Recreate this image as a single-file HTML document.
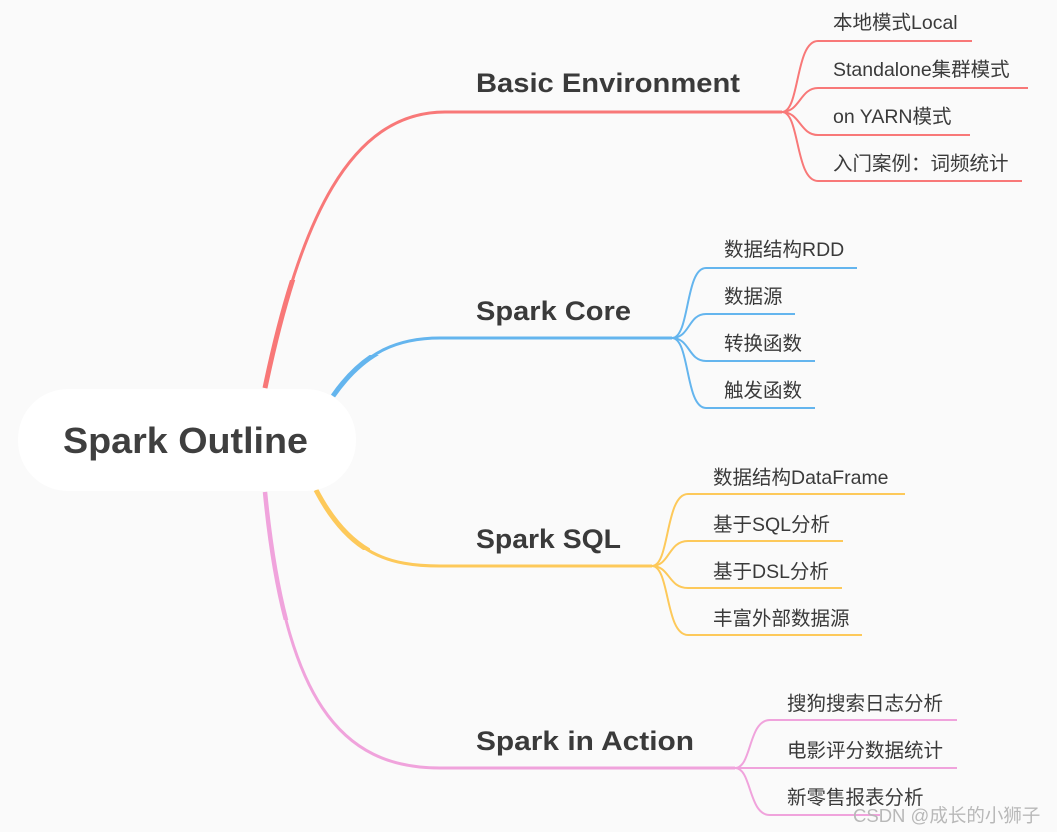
<!DOCTYPE html>
<html><head><meta charset="utf-8"><style>
html,body{margin:0;padding:0;background:#fafafa;}
svg{display:block}
.t{font-family:"Liberation Sans","Noto Sans CJK SC",sans-serif;font-size:19.5px;fill:#3a3a3a}
.b{font-family:"Liberation Sans","Noto Sans CJK SC",sans-serif;font-size:27px;font-weight:bold;fill:#3a3a3a}
</style></head><body>
<svg width="1057" height="832" viewBox="0 0 1057 832" xmlns="http://www.w3.org/2000/svg">
<defs>
<clipPath id="lowR"><rect x="0" y="280" width="400" height="120"/></clipPath>
<clipPath id="lowB"><rect x="300" y="355" width="80" height="60"/></clipPath>
<clipPath id="lowY"><rect x="300" y="480" width="70" height="70"/></clipPath>
<clipPath id="lowP"><rect x="200" y="480" width="120" height="140"/></clipPath>
</defs>
<rect width="1057" height="832" fill="#fafafa"/>
<!-- main branches -->
<path d="M265,388 C300,220 350,112 445,112 L782,112" fill="none" stroke="#f87878" stroke-width="3"/>
<path d="M265,388 C300,220 350,112 445,112" fill="none" stroke="#f87878" stroke-width="5" clip-path="url(#lowR)"/>
<path d="M333,396 C365,350 400,338 440,338 L672,338" fill="none" stroke="#64b5ee" stroke-width="3"/>
<path d="M333,396 C365,350 400,338 440,338" fill="none" stroke="#64b5ee" stroke-width="5" clip-path="url(#lowB)"/>
<path d="M316,490 C350,555 390,566 440,566 L652,566" fill="none" stroke="#fdc95a" stroke-width="3"/>
<path d="M316,490 C350,555 390,566 440,566" fill="none" stroke="#fdc95a" stroke-width="5" clip-path="url(#lowY)"/>
<path d="M265,492 C285,700 340,768 440,768 L735,768" fill="none" stroke="#f0a3dc" stroke-width="3"/>
<path d="M265,492 C285,700 340,768 440,768" fill="none" stroke="#f0a3dc" stroke-width="4.5" clip-path="url(#lowP)"/>
<!-- central node -->
<rect x="18" y="389" width="338" height="102" rx="50" fill="#ffffff"/>
<text x="63" y="453" font-family="Liberation Sans, sans-serif" font-size="36" font-weight="bold" fill="#3f3f3f" textLength="245" lengthAdjust="spacingAndGlyphs">Spark Outline</text>
<!-- red children -->
<g fill="none" stroke="#f87878" stroke-width="2">
<path d="M782,112 C800,112 795,41 818,41 L972,41"/>
<path d="M782,112 C800,112 800,88 818,88 L1028,88"/>
<path d="M782,112 C800,112 800,135 818,135 L970,135"/>
<path d="M782,112 C800,112 795,181 818,181 L1022,181"/>
</g>
<text class="b" x="476" y="92" textLength="264" lengthAdjust="spacingAndGlyphs">Basic Environment</text>
<text class="t" x="833" y="29">本地模式Local</text>
<text class="t" x="833" y="76">Standalone集群模式</text>
<text class="t" x="833" y="123">on YARN模式</text>
<text class="t" x="833" y="170">入门案例：词频统计</text>
<!-- blue children -->
<g fill="none" stroke="#64b5ee" stroke-width="2">
<path d="M672,338 C690,338 685,268 706,268 L857,268"/>
<path d="M672,338 C690,338 688,314 706,314 L795,314"/>
<path d="M672,338 C690,338 688,361 706,361 L815,361"/>
<path d="M672,338 C690,338 685,408 706,408 L815,408"/>
</g>
<text class="b" x="476" y="320" textLength="155" lengthAdjust="spacingAndGlyphs">Spark Core</text>
<text class="t" x="724" y="256">数据结构RDD</text>
<text class="t" x="724" y="303">数据源</text>
<text class="t" x="724" y="350">转换函数</text>
<text class="t" x="724" y="397">触发函数</text>
<!-- yellow children -->
<g fill="none" stroke="#fdc95a" stroke-width="2">
<path d="M652,566 C670,566 665,494 688,494 L905,494"/>
<path d="M652,566 C670,566 668,541 688,541 L843,541"/>
<path d="M652,566 C670,566 668,588 688,588 L842,588"/>
<path d="M652,566 C670,566 665,635 688,635 L862,635"/>
</g>
<text class="b" x="476" y="548" textLength="145" lengthAdjust="spacingAndGlyphs">Spark SQL</text>
<text class="t" x="713" y="484">数据结构DataFrame</text>
<text class="t" x="713" y="531">基于SQL分析</text>
<text class="t" x="713" y="578">基于DSL分析</text>
<text class="t" x="713" y="625">丰富外部数据源</text>
<!-- pink children -->
<g fill="none" stroke="#f0a3dc" stroke-width="2">
<path d="M735,768 C752,768 748,720 770,720 L957,720"/>
<path d="M735,768 L957,768"/>
<path d="M735,768 C752,768 748,815 770,815 L880,815"/>
</g>
<text class="b" x="476" y="750" textLength="218" lengthAdjust="spacingAndGlyphs">Spark in Action</text>
<text class="t" x="787" y="710">搜狗搜索日志分析</text>
<text class="t" x="787" y="757">电影评分数据统计</text>
<text class="t" x="787" y="804">新零售报表分析</text>
<text x="853" y="822" font-family="Liberation Sans, Noto Sans CJK SC, sans-serif" font-size="18.5" fill="#b8b8b8">CSDN @成长的小狮子</text>
</svg>
</body></html>
